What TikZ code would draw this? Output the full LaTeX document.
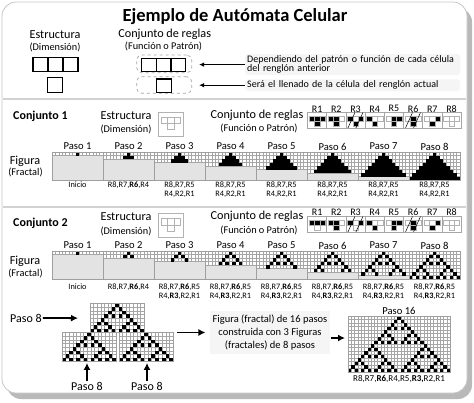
\documentclass[tikz,border=0pt]{standalone}
\usepackage{fontspec}
\setmainfont{Carlito}
\usetikzlibrary{arrows.meta}

\tikzset{
  heading/.style={font=\fontsize{18.5}{21}\selectfont\bfseries},
  setname/.style={font=\fontsize{12}{14}\selectfont\bfseries, anchor=west, inner sep=1pt},
  mainlbl/.style={font=\fontsize{12.2}{14}\selectfont, inner sep=1pt},
  sublbl/.style={font=\fontsize{10.3}{12}\selectfont, inner sep=1pt},
  pasolbl/.style={font=\fontsize{10.6}{12}\selectfont, inner sep=1pt},
  bigpaso/.style={font=\fontsize{12}{14}\selectfont, inner sep=1pt},
  rulelbl/.style={font=\fontsize{10}{12}\selectfont, inner sep=1pt},
  capt/.style={font=\fontsize{8.3}{9}\selectfont, align=center, anchor=north, inner sep=1pt},
  desc/.style={fill=gray!8, rounded corners=3pt, font=\fontsize{10}{9.5}\selectfont, align=left, text width=211pt, anchor=west, inner xsep=2pt, inner ysep=1.5pt},
  note/.style={fill=gray!8, font=\fontsize{10.5}{13}\selectfont, align=center, inner xsep=3pt, inner ysep=4pt},
  sq/.style={draw, line width=1.2pt, minimum width=15pt, minimum height=14.5pt, inner sep=0},
  dashbox/.style={draw=gray!70, dashed, line width=0.7pt, rounded corners=5pt, inner sep=0},
  arrowthin/.style={-{Latex[length=5pt,width=4.5pt]}, line width=1pt},
  arrowbig/.style={-{Latex[length=7pt,width=7pt]}, line width=1.8pt},
  gridline/.style={gray!70, line width=0.25pt},
  panelframe/.style={draw=gray!75, line width=0.6pt},
  panelfill/.style={fill=gray!22},
  ruleframe/.style={draw=gray!70, line width=0.6pt},
  rulecell/.style={draw=gray!60, line width=0.3pt},
  hatch/.style={black, line width=0.5pt},
  iconframe/.style={draw=gray!60, line width=0.6pt},
  iconcell/.style={draw=gray!60, line width=0.5pt},
  fracbox/.style={anchor=north west, inner sep=0},
  sepline/.style={gray!35, line width=2pt},
}

% black offsets of each row of the Sierpinski figure
\newcommand{\sierprows}{0/{0},1/{-1,1},2/{-2,2},3/{-3,-1,1,3},4/{-4,4},5/{-5,-3,3,5},6/{-6,-2,2,6},7/{-7,-5,-3,-1,1,3,5,7},8/{-8,8},9/{-9,-7,7,9},10/{-10,-6,6,10},11/{-11,-9,-7,-5,5,7,9,11},12/{-12,-4,4,12},13/{-13,-11,-5,-3,3,5,11,13},14/{-14,-10,-6,-2,2,6,10,14},15/{-15,-13,-11,-9,-7,-5,-3,-1,1,3,5,7,9,11,13,15}}

% #1,#2 top left, #3 columns, #4 rows drawn, #5 rows in frame, #6,#7 cell, #8 rule
\newcommand{\fractalgrid}[8]{%
  \fill[panelfill] ({#1},{#2}) rectangle ++({#3*#6},{#5*#7});
  \fill[white] ({#1},{#2}) rectangle ++({#3*#6},{#4*#7});
  \foreach \ci in {0,...,#3} \draw[gridline] ({#1+\ci*#6},{#2}) -- ++(0,{#4*#7});
  \foreach \cj in {0,...,#4} \draw[gridline] ({#1},{#2+\cj*#7}) -- ++({#3*#6},0);
  \pgfmathtruncatemacro{\midcol}{(#3-1)/2}
  \ifnum#8=1
    \foreach \rowi in {1,...,#4}
      \fill[black] ({#1+(\midcol-\rowi+1)*#6},{#2+(\rowi-1)*#7}) rectangle ++({(2*\rowi-1)*#6},{#7});
  \else
    \foreach \rowi/\offs in \sierprows {
      \ifnum\rowi<#4\relax
        \foreach \offi in \offs
          \fill[black] ({#1+(\midcol+(\offi))*#6},{#2+\rowi*#7}) rectangle ++({#6},{#7});
      \fi
    }
  \fi
  \draw[panelframe] ({#1},{#2}) rectangle ++({#3*#6},{#5*#7});
}

% #1,#2 top left, #3-#5 upper cells, #6 lower cell, #7 crossed out
\newcommand{\ruleicon}[7]{%
  \draw[ruleframe] ({#1},{#2}) rectangle ++(19.2,15.5);
  \foreach \bit [count=\bi from 0] in {#3,#4,#5} {
    \ifnum\bit=1 \def\bcol{black}\else\def\bcol{white}\fi
    \filldraw[rulecell, fill=\bcol] ({#1+1.5+\bi*5.4},{#2+3.5}) rectangle ++(5.4,5);
  }
  \ifnum#6=1 \def\bcol{black}\else\def\bcol{white}\fi
  \filldraw[rulecell, fill=\bcol] ({#1+6.9},{#2+8.5}) rectangle ++(5.4,5.5);
  \ifnum#7=1
    \draw[hatch] ({#1+2},{#2+15.5}) -- ++(7,-15.5);
    \draw[hatch] ({#1+10},{#2+15.5}) -- ++(7,-15.5);
  \fi
}

% #1,#2 centre
\newcommand{\structicon}[2]{%
  \draw[iconframe] ({#1-12.5},{#2-12}) rectangle ++(25,24);
  \foreach \si in {-1,0,1}
    \draw[iconcell] ({#1-3.2+\si*6.4},{#2-7}) rectangle ++(6.4,6.4);
  \draw[iconcell] ({#1-3.2},{#2-0.6}) rectangle ++(6.4,6.4);
}

\begin{document}
\begin{tikzpicture}[x=1pt,y=-1pt]
\useasboundingbox (0,0) rectangle (474,402);

% Frame
\fill[gray!55, rounded corners=14pt] (7,8) rectangle (472,399);
\draw[gray!45, fill=white, line width=0.8pt, rounded corners=14pt] (2,2) rectangle (467,393);
\draw[sepline] (3,99) -- (466,99);
\draw[sepline] (3,207) -- (466,207);

% Title
\node[heading] (title) at (235,17) {Ejemplo de Autómata Celular};

% Structure
\node[mainlbl] (est0) at (55,35) {Estructura};
\node[sublbl] (dim0) at (55,47) {(Dimensión)};
\node[sq] (sqA) at (40.5,64.5) {};
\node[sq] (sqB) at (55.5,64.5) {};
\node[sq] (sqC) at (70.5,64.5) {};
\node[sq] (sqD) at (54.7,85) {};

% Rule set
\node[mainlbl] (reg0) at (164.7,34) {Conjunto de reglas};
\node[sublbl] (fun0) at (163.5,46) {(Función o Patrón)};
\node[dashbox, minimum width=55pt, minimum height=17.7pt] (rulesTop) at (164.2,63.9) {};
\node[dashbox, minimum width=55pt, minimum height=16.6pt] (rulesBot) at (164.2,85) {};
\node[sq, minimum width=14.7pt, minimum height=13.4pt] (rsA) at (149,65) {};
\node[sq, minimum width=14.7pt, minimum height=13.4pt] (rsB) at (163.7,65) {};
\node[sq, minimum width=14.7pt, minimum height=13.4pt] (rsC) at (178.4,65) {};
\node[sq, minimum width=14.7pt, minimum height=13.4pt] (rsD) at (164.2,85.7) {};

% Descriptions
\node[desc] (desc1) at (245,64.6) {Dependiendo del patrón o función de cada célula\\del renglón anterior};
\node[desc] (desc2) at (245,85.2) {Será el llenado de la célula del renglón actual};
\draw[arrowthin, shorten >=7pt] (desc1.west) -- (desc1.west -| rulesTop.east);
\draw[arrowthin, shorten >=7pt] (desc2.west) -- (desc2.west -| rulesBot.east);

% Conjunto 1
\node[setname] (set1) at (12,116.5) {Conjunto 1};
\node[mainlbl] (est1) at (126,115.7) {Estructura};
\node[sublbl] (dim1) at (126,129.3) {(Dimensión)};
\structicon{170.8}{123.8}
\node[mainlbl] (reg1) at (257,115) {Conjunto de reglas};
\node[sublbl] (fun1) at (259,128.3) {(Función o Patrón)};
\foreach \n/\ba/\bb/\bc/\bo/\bh in {1/1/1/1/1/0,2/1/1/0/1/0,3/1/0/1/1/1,4/1/0/0/1/0,5/0/1/1/1/0,6/0/1/0/1/1,7/0/0/1/1/0,8/0/0/0/0/0} {
  \pgfmathsetmacro{\rx}{307.5+19.2*(\n-1)}
  \node[rulelbl] (c1r\n) at ({\rx+9.6},108.8) {R\n};
  \ruleicon{\rx}{112.5}{\ba}{\bb}{\bc}{\bo}{\bh}
}
\node[mainlbl] (fig1) at (25,161) {Figura};
\node[sublbl] (frac1) at (25.5,172.5) {(Fractal)};
\foreach \k in {1,...,8} {
  \pgfmathsetmacro{\px}{52+51*(\k-1)}
  \fractalgrid{\px}{152}{15}{\k}{8}{3.4}{3.5}{1}
  \node[pasolbl] (c1paso\k) at ({\px+25.5},146.5) {Paso \k};
}
\node[capt] (c1cap1) at (77.5,181) {Inicio};
\node[capt] (c1cap2) at (128.5,181) {R8,R7,\textbf{R6},R4};
\foreach \k in {3,...,8}
  \node[capt] (c1cap\k) at ({52+51*(\k-1)+25.5},181) {R8,R7,R5\\R4,R2,R1};

% Conjunto 2
\node[setname] (set2) at (12,223) {Conjunto 2};
\node[mainlbl] (est2) at (126,217) {Estructura};
\node[sublbl] (dim2) at (126,231.5) {(Dimensión)};
\structicon{170.8}{225.5}
\node[mainlbl] (reg2) at (257,216.7) {Conjunto de reglas};
\node[sublbl] (fun2) at (259,230.3) {(Función o Patrón)};
\foreach \n/\ba/\bb/\bc/\bo/\bh in {1/1/1/1/0/0,2/1/1/0/1/0,3/1/0/1/0/1,4/1/0/0/1/0,5/0/1/1/1/0,6/0/1/0/1/1,7/0/0/1/1/0,8/0/0/0/0/0} {
  \pgfmathsetmacro{\rx}{307.5+19.2*(\n-1)}
  \node[rulelbl] (c2r\n) at ({\rx+9.6},212.5) {R\n};
  \ruleicon{\rx}{216.5}{\ba}{\bb}{\bc}{\bo}{\bh}
}
\node[mainlbl] (fig2) at (25,261.5) {Figura};
\node[sublbl] (frac2) at (25.5,273) {(Fractal)};
\foreach \k in {1,...,8} {
  \pgfmathsetmacro{\px}{52+51*(\k-1)}
  \fractalgrid{\px}{251}{15}{\k}{8}{3.4}{3.5}{2}
  \node[pasolbl] (c2paso\k) at ({\px+25.5},245.5) {Paso \k};
}
\node[capt] (c2cap1) at (77.5,282.5) {Inicio};
\node[capt] (c2cap2) at (128.5,282.5) {R8,R7,\textbf{R6},R4};
\foreach \k in {3,...,8}
  \node[capt] (c2cap\k) at ({52+51*(\k-1)+25.5},282.5) {R8,R7,\textbf{R6},R5\\R4,\textbf{R3},R2,R1};

% Three figures of 8 steps
\fractalgrid{90}{303.5}{15}{8}{8}{3.6}{3.625}{2}
\fractalgrid{62}{332.5}{15}{8}{8}{3.6}{3.625}{2}
\fractalgrid{119}{332.5}{15}{8}{8}{3.6}{3.625}{2}
\node[fracbox, minimum width=54pt, minimum height=29pt] (fracTop) at (90,303.5) {};
\node[fracbox, minimum width=54pt, minimum height=29pt] (fracBL) at (62,332.5) {};
\node[fracbox, minimum width=54pt, minimum height=29pt] (fracBR) at (119,332.5) {};
\node[bigpaso] (p8top) at (26,318) {Paso 8};
\node[bigpaso] (p8bl) at (87,386) {Paso 8};
\node[bigpaso] (p8br) at (147,386) {Paso 8};
\draw[arrowbig, shorten >=12pt] (p8top) -- (fracTop);
\draw[arrowbig, shorten >=1pt] (p8bl.north) -- (p8bl.north |- fracBL.south);
\draw[arrowbig, shorten >=1pt] (p8br.north) -- (p8br.north |- fracBR.south);

% Figure of 16 steps
\node[note] (textF) at (270,332.5) {Figura (fractal) de 16 pasos\\construida con 3 Figuras\\(fractales) de 8 pasos};
\draw[arrowbig, shorten <=4pt, shorten >=4pt] (fracBR.north east) -- (textF.west);
\fractalgrid{348}{316}{31}{16}{16}{3.29}{3.5}{2}
\node[fracbox, minimum width=102pt, minimum height=56pt] (fracBig) at (348,316) {};
\node[pasolbl] (p16) at (399,310.5) {Paso 16};
\node[capt, font=\fontsize{9}{10}\selectfont] (c16) at (399,374.5) {R8,R7,\textbf{R6},R4,R5,\textbf{R3,}R2,R1};
\coordinate (arrowTwo) at (331,338);
\draw[arrowbig, shorten >=3pt] (arrowTwo) -- (arrowTwo -| fracBig.west);
\end{tikzpicture}
\end{document}
